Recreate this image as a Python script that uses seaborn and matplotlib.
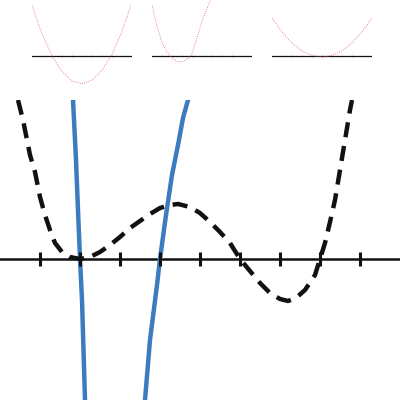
import matplotlib
matplotlib.use('Agg')
import matplotlib.pyplot as plt
import seaborn as sns

sns.set_style('white')

# main curve (dashed black)
quartic_x = [0.45, 0.575, 0.75, 0.875, 1.0, 1.125, 1.25, 1.375, 1.55, 1.75, 2.0, 2.25, 2.5, 2.75,
             3.0, 3.25, 3.5, 3.75, 4.0, 4.25, 4.45, 4.75, 5.0, 5.25, 5.5, 5.75, 6.0, 6.25, 6.5,
             6.75, 7.0, 7.2, 7.4, 7.625, 7.875, 8.0, 8.125, 8.25, 8.375, 8.5, 8.625, 8.75, 8.8]
quartic_y = [159, 139, 104, 87, 62, 44, 29, 16, 7, 2, 0, 2, 7, 14, 22, 31, 38, 45, 51, 54, 55,
             52, 46, 37, 27, 16, 0, -12, -24, -34, -40, -42, -39, -31, -16, 0, 16, 37, 59, 89,
             119, 149, 159]
# blue curve
blue_x = [1.825, 1.9, 1.95, 2.0, 2.05, 2.125, 2.3, 3.0, 3.5, 3.625, 3.75, 3.925, 4.0, 4.15,
          4.3, 4.45, 4.575, 4.7]
blue_y = [159, 99, 49, 0, -41, -141, -300, -400, -250, -141, -81, -26, 0, 44, 84, 114, 141, 159]
ticks_x = [1, 2, 3, 4, 5, 6, 7, 8, 9]

# small insets (red dotted parabolas)
inset1_x = [0, 1, 2, 3, 4, 5, 6, 7, 8, 9, 9.9]
inset1_y = [50.6, 22.1, 0, -15.7, -25, -27.8, -24.3, -14.4, 1.9, 24.6, 51]
inset2_x = [0, 0.5, 1, 1.4, 1.8, 2.4, 2.9, 3.4, 3.9, 4.5, 5, 6]
inset2_y = [51, 30, 13, 6, 0, -5, -6, -4, 0, 18, 35, 60]
inset3_x = [0, 1, 2, 3, 4, 5, 6, 7, 8, 9, 10]
inset3_y = [38, 24, 13, 5, 0.6, -1, 0.6, 5, 13, 24, 38]

fig = plt.figure(figsize=(4, 4), dpi=100)
ax = fig.add_axes([0, 0, 1, 0.75])
ax.axhline(0, color='#111111', lw=1.8)
sns.lineplot(x=blue_x, y=blue_y, ax=ax, sort=False, color='#3b7bbf', lw=3.2)
sns.lineplot(x=quartic_x, y=quartic_y, ax=ax, sort=False, color='#111111', lw=3.2,
             linestyle=(0, (3.4, 2.0)))
ax.scatter(ticks_x, [0] * len(ticks_x), marker='|', s=90, color='#111111', linewidths=2.2, zorder=5)
ax.set_xlim(0, 10)
ax.set_ylim(-141, 159)
ax.axis('off')

for left, xs, ys in [(32, inset1_x, inset1_y), (152, inset2_x, inset2_y), (272, inset3_x, inset3_y)]:
    iax = fig.add_axes([left / 400, 1 - 95 / 400, 100 / 400, 95 / 400])
    iax.scatter(range(1, 10), [0] * 9, marker='|', s=5, color='#dddddd', linewidths=0.5, zorder=1)
    iax.axhline(0, color='#111111', lw=0.9, zorder=2)
    sns.lineplot(x=xs, y=ys, ax=iax, sort=False, color='#e06060', lw=0.6, linestyle=':', zorder=3)
    iax.set_xlim(0, 10)
    iax.set_ylim(-39, 56)
    iax.axis('off')
    iax.patch.set_alpha(0)

fig.savefig('out.png', dpi=100)
